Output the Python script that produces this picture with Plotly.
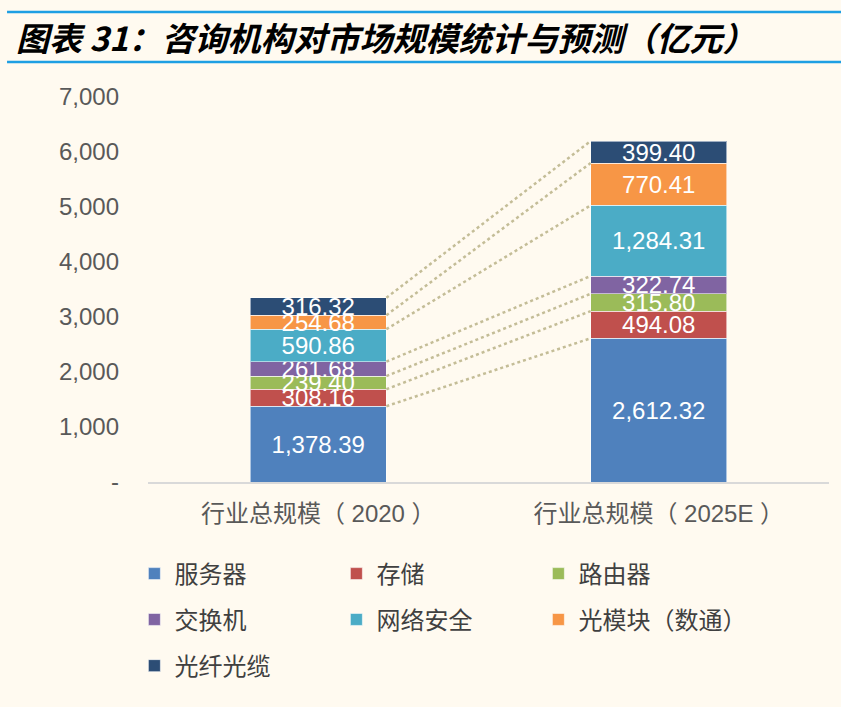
import plotly.graph_objects as go

categories = ["行业总规模（ 2020 ）", "行业总规模（ 2025E ）"]
series_names = ["服务器", "存储", "路由器", "交换机", "网络安全", "光模块（数通）", "光纤光缆"]
values_2020 = [1378.39, 308.16, 239.40, 261.68, 590.86, 254.68, 316.32]
values_2025 = [2612.32, 494.08, 315.80, 322.74, 1284.31, 770.41, 399.40]
colors = ["#4F81BD", "#C0504D", "#9BBB59", "#8064A2", "#4BACC6", "#F79646", "#2C4D75"]
y_tickvals = [0, 1000, 2000, 3000, 4000, 5000, 6000, 7000]
y_ticktext = ["-", "1,000", "2,000", "3,000", "4,000", "5,000", "6,000", "7,000"]

BAR_W = 0.4
BG = "#FFFAF0"
LEGEND_ROWS = ["legend", "legend2", "legend3"]

fig = go.Figure()

# stacked bars
for i, name in enumerate(series_names):
    fig.add_trace(go.Bar(
        x=[0, 1], y=[values_2020[i], values_2025[i]], name=name,
        width=BAR_W,
        marker=dict(color=colors[i], line=dict(color="rgba(255,255,255,0.55)", width=1)),
        texttemplate="%{y:,.2f}", textposition="inside", insidetextanchor="middle",
        textangle=0,
        textfont=dict(family="Liberation Sans, Arial", size=24, color="white"),
        legend=LEGEND_ROWS[i // 3],
        hoverinfo="skip",
    ))

# dotted connectors between segment tops
cum20, cum25 = 0.0, 0.0
for i in range(len(series_names)):
    cum20 += values_2020[i]
    cum25 += values_2025[i]
    fig.add_trace(go.Scatter(
        x=[BAR_W / 2, 1 - BAR_W / 2], y=[cum20, cum25], mode="lines",
        line=dict(color="#C4BD97", width=2.5, dash="3px,3px"),
        showlegend=False, hoverinfo="skip",
    ))

legend_common = dict(
    orientation="h", xanchor="left", yanchor="middle", x=-0.02,
    font=dict(family="Noto Sans CJK SC", size=24, color="#404040"),
    bgcolor="rgba(0,0,0,0)", entrywidth=157, entrywidthmode="pixels",
    traceorder="normal",
)

fig.update_layout(
    width=841, height=707,
    margin=dict(l=148, r=12, t=97, b=225),
    paper_bgcolor=BG, plot_bgcolor=BG,
    barmode="stack",
    uniformtext=dict(minsize=24, mode="show"),
    xaxis=dict(
        range=[-0.5, 1.5], tickvals=[0, 1], ticktext=categories,
        showgrid=False, zeroline=False, showline=True, linecolor="#D9D9D9", linewidth=1.5,
        ticks="", ticklabelstandoff=10,
        tickfont=dict(family="Liberation Sans, Noto Sans CJK SC", size=24, color="#595959"),
        fixedrange=True,
    ),
    yaxis=dict(
        range=[0, 7000], tickvals=y_tickvals, ticktext=y_ticktext,
        showgrid=False, zeroline=False, showline=False, ticks="",
        ticklabelstandoff=28,
        tickfont=dict(family="Liberation Sans, Arial", size=24, color="#595959"),
        fixedrange=True,
    ),
    legend=dict(legend_common, y=-0.239),
    legend2=dict(legend_common, y=-0.358),
    legend3=dict(legend_common, y=-0.478),
    showlegend=True,
)

# header: title with blue rules
fig.add_shape(type="line", xref="paper", yref="paper", x0=-0.207, x1=1.02, y0=1.2208, y1=1.2208,
              line=dict(color="#1E9FE3", width=2.5))
fig.add_shape(type="line", xref="paper", yref="paper", x0=-0.207, x1=1.02, y0=1.0909, y1=1.0909,
              line=dict(color="#1E9FE3", width=2.5))
fig.add_annotation(
    text="<b><i>图表 31：咨询机构对市场规模统计与预测（亿元）</i></b>",
    xref="paper", yref="paper", x=-0.1968, y=1.1558, xanchor="left", yanchor="middle",
    showarrow=False, font=dict(family="Noto Sans CJK SC", size=33, color="#000000"),
)

fig.write_html(
    "out.html",
    config={"displayModeBar": False, "staticPlot": True},
    post_script="document.body.style.margin='0';document.body.style.background='#FFFAF0';",
)
